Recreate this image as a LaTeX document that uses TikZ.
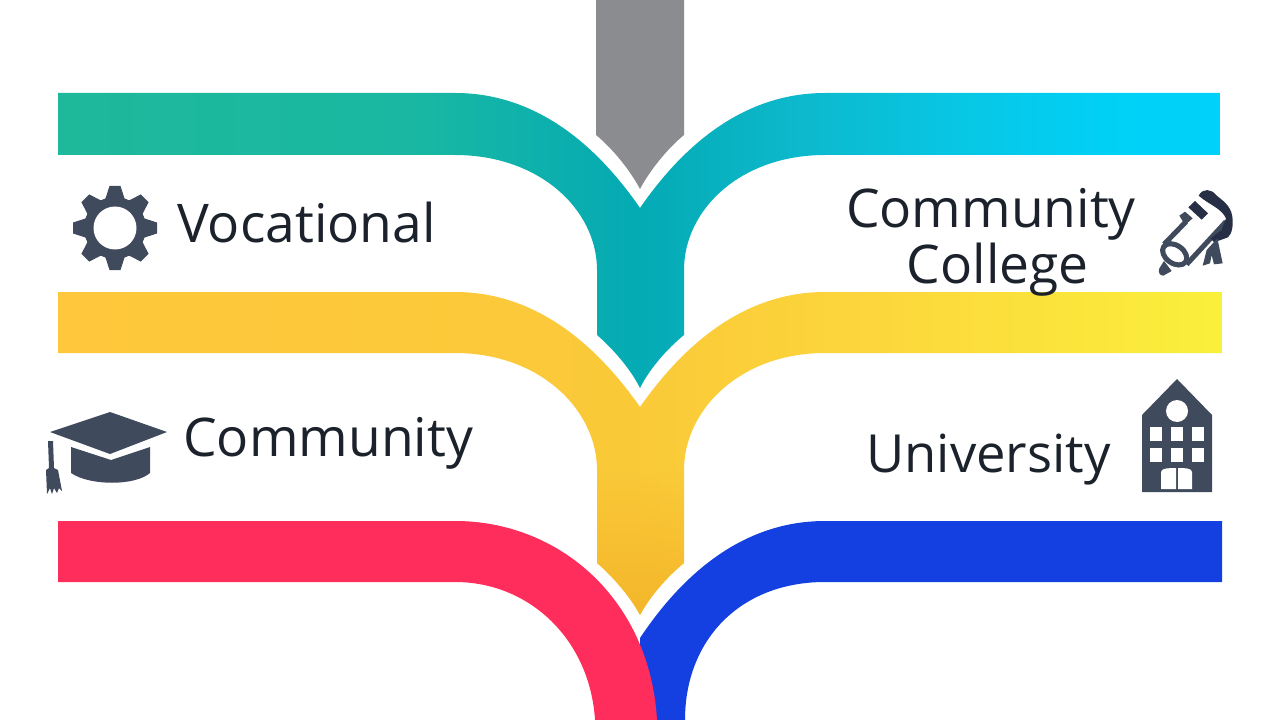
\documentclass[tikz,border=0pt]{standalone}
\usepackage{fontspec}
\setmainfont{Open Sans}
\usetikzlibrary{fadings}
\definecolor{inkc}{HTML}{1C222C}
\definecolor{iconc}{HTML}{3F4A5C}
\definecolor{iconk}{HTML}{262F45}
\definecolor{greyc}{HTML}{8B8C90}
\definecolor{redc}{RGB}{255,45,92}
\definecolor{bluec}{RGB}{20,64,225}
\definecolor{tipy}{RGB}{244,182,42}
\pgfdeclarehorizontalshading{tealshade}{100bp}{
  rgb(0bp)=(0.118,0.722,0.608); rgb(25bp)=(0.118,0.722,0.608); rgb(40bp)=(0.102,0.722,0.635);
  rgb(50bp)=(0.016,0.667,0.706); rgb(57bp)=(0.05,0.725,0.80); rgb(64bp)=(0.03,0.78,0.90);
  rgb(71bp)=(0,0.82,0.97); rgb(75bp)=(0,0.82,0.98); rgb(100bp)=(0,0.82,0.98)}
\pgfdeclarehorizontalshading{yellowshade}{100bp}{
  rgb(0bp)=(1,0.784,0.235); rgb(25bp)=(1,0.784,0.235); rgb(50bp)=(0.98,0.79,0.22);
  rgb(60bp)=(0.99,0.84,0.235); rgb(75bp)=(0.98,0.94,0.23); rgb(100bp)=(0.98,0.94,0.23)}
\tikzset{
  label text/.style={text=inkc,inner sep=0pt,font=\fontsize{40pt}{46pt}\selectfont},
  icon/.style={fill=iconc,draw=none},
  hole/.style={fill=white,draw=none}
}
\begin{document}
\begin{tikzpicture}[x=0.75pt,y=-0.75pt]
\useasboundingbox (0,0) rectangle (1280,720);
\fill[white] (0,0) rectangle (1280,720);
% grey stem
\fill[greyc]
  (596,0) -- (684,0) -- (684,135) .. controls (668,148) and (650,170) .. (640,189)
  .. controls (630,170) and (612,148) .. (596,135) -- cycle;
% teal
\shade[shading=tealshade]
  (58,93) -- (455,93) .. controls (540,93) and (600,150) .. (640,208)
  .. controls (680,150) and (740,93) .. (825,93) -- (1220,93) -- (1220,155) -- (825,155)
  .. controls (740,155) and (684,210) .. (684,270) -- (684,335)
  .. controls (668,348) and (650,368) .. (640,388)
  .. controls (630,368) and (612,348) .. (597,335) -- (597,270)
  .. controls (597,210) and (540,155) .. (455,155) -- (58,155) -- cycle;
% yellow
\shade[shading=yellowshade]
  (58,292) -- (455,292) .. controls (540,292) and (600,350) .. (640,407)
  .. controls (680,350) and (740,292) .. (825,292) -- (1222,292) -- (1222,353) -- (825,353)
  .. controls (740,353) and (684,410) .. (684,470) -- (684,563)
  .. controls (668,576) and (650,596) .. (640,615)
  .. controls (630,596) and (612,576) .. (597,563) -- (597,470)
  .. controls (597,410) and (540,353) .. (455,353) -- (58,353) -- cycle;
\begin{scope}
  \clip (597,470) -- (684,470) -- (684,563) .. controls (668,576) and (650,596) .. (640,615)
  .. controls (630,596) and (612,576) .. (597,563) -- cycle;
  \fill[tipy,path fading=north] (597,470) rectangle (684,615);
\end{scope}
% blue
\fill[bluec]
  (1222,521) -- (825,521) .. controls (740,521) and (680,578) .. (640,638)
  -- (640,720) -- (685,720) .. controls (685,640) and (740,582) .. (825,582) -- (1222,582) -- cycle;
% red
\fill[redc]
  (58,521) -- (455,521) .. controls (560,521) and (650,600) .. (657,720)
  -- (595,720) .. controls (590,640) and (530,582) .. (455,582) -- (58,582) -- cycle;
% labels
\node[label text,anchor=base west] (voc) at (177,243) {Vocational};
\node[label text,anchor=base west] (com) at (183,456) {Community};
\node[label text,anchor=base east] (cc1) at (1136,228) {Community};
\node[label text,anchor=base east] (cc2) at (1089,283) {College};
\node[label text,anchor=base east,font=\fontsize{39.4pt}{46pt}\selectfont] (uni) at (1111,472) {University};
% gear
\begin{scope}[shift={(115,228)}]
  \foreach \a in {0,45,...,315}
    \fill[icon,rotate=\a] (-10,-28) -- (-5.5,-42) -- (5.5,-42) -- (10,-28) -- cycle;
  \fill[icon] (0,0) circle (31);
  \fill[hole] (0,0) circle (21.5);
\end{scope}
% cap
\fill[icon] (50,432) -- (110,412) -- (167,432) -- (110,454) -- cycle;
\fill[icon] (71,447) -- (111,460) -- (150,447) -- (150,473) .. controls (135,486) and (90,486) .. (71,473) -- cycle;
\fill[icon] (48,441) -- (53,441) -- (54,468) -- (58,470) -- (62,491) -- (59,488) -- (57,493) -- (54,488) -- (52,494) -- (50,488) -- (47,494) -- (46,470) -- (49,468) -- cycle;
% pen
\begin{scope}[shift={(1140,175)},x=0.25pt,y=-0.25pt]
  \draw[iconc,line width=3.8pt,line join=round] (72,208) -- (138,140) (140,268) -- (258,140);
  \fill[iconc] (58,280) -- (72,258) -- (95,288) -- (70,302) .. controls (60,302) and (53,292) .. (58,280) -- cycle;
  \draw[iconc,fill=white,line width=3.8pt,rotate around={-35:(104,238)}] (104,238) ellipse [x radius=40,y radius=27];
  \fill[iconc] (118,122) -- (135,110) -- (158,130) -- (135,150) -- cycle;
  \fill[iconk] (145,97) -- (165,78) -- (204,115) -- (185,134) -- cycle;
  \fill[iconk] (176,62) .. controls (188,38) and (215,42) .. (228,60)
     .. controls (245,75) and (272,90) .. (277,125) .. controls (280,150) and (277,175) .. (264,187)
     -- (222,202) -- (212,190) -- (245,165) -- (258,130) .. controls (245,100) and (205,88) .. (176,62) -- cycle;
  \fill[iconc] (200,225) -- (232,190) -- (248,265) -- (222,268) -- (215,240) -- (210,265) -- (188,272) -- cycle;
\end{scope}
% building
\fill[icon] (1177,379) -- (1212,415) -- (1212,492) -- (1142,492) -- (1142,415) -- cycle;
\fill[hole] (1177,411) circle (11);
\foreach \xa in {1150,1171,1192}
  \foreach \ya in {427,448}
    \fill[hole] (\xa,\ya) rectangle ++(12,13.5);
\fill[hole] (1161,489) -- (1161,472) .. controls (1161,468) and (1170,468) .. (1176,468) -- (1176,489) -- cycle;
\fill[hole] (1178,489) -- (1178,468) .. controls (1184,468) and (1192,468) .. (1192,472) -- (1192,489) -- cycle;
\end{tikzpicture}
\end{document}
